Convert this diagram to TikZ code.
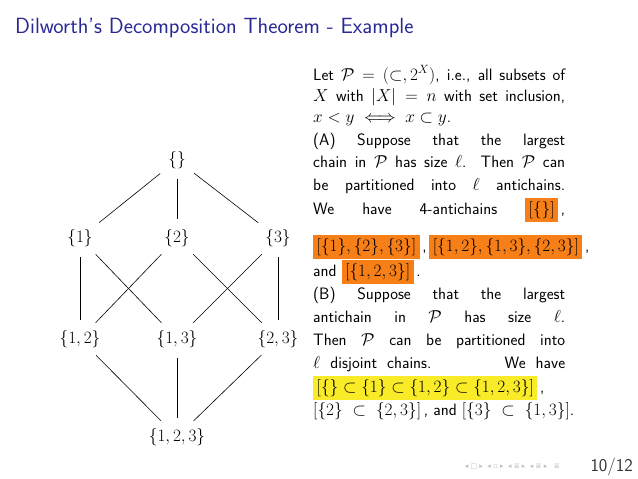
\documentclass[tikz,border=0pt]{standalone}
\usepackage{amssymb}
\usepackage{fontspec}
\newfontfamily\djv{DejaVu Sans}
\definecolor{titleblue}{RGB}{40,40,150}
\definecolor{hlorange}{RGB}{247,127,24}
\definecolor{hlyellow}{RGB}{250,235,40}
\newcommand{\Pc}{\mathcal{P}}
\newcommand{\hl}[2]{{\setlength{\fboxsep}{3.5pt}\colorbox{#1}{$#2$}}}
\newcommand{\jl}[1]{\makebox[252pt][s]{#1}}
\begin{document}
\begin{tikzpicture}[x=1pt,y=-1pt,
  setnode/.style={font=\fontsize{16}{18}\selectfont, inner sep=1pt},
  edge/.style={line width=0.6pt, shorten >=9pt, shorten <=9pt},
  ln/.style={font=\sffamily\fontsize{16.5}{20}\selectfont, inner sep=0pt, anchor=base west}]
\useasboundingbox (0,0) rectangle (638,479);
\node[anchor=west, text=titleblue, font=\sffamily\fontsize{22}{24}\selectfont, inner sep=0pt] (title) at (15,28) {Dilworth's Decomposition Theorem - Example};
\node[setnode] (e) at (177,160) {$\{\}$};
\node[setnode] (a1) at (80,238) {$\{1\}$};
\node[setnode] (a2) at (177,238) {$\{2\}$};
\node[setnode] (a3) at (278,238) {$\{3\}$};
\node[setnode] (b12) at (80,339) {$\{1,2\}$};
\node[setnode] (b13) at (177,339) {$\{1,3\}$};
\node[setnode] (b23) at (278,339) {$\{2,3\}$};
\node[setnode] (c) at (177,437) {$\{1,2,3\}$};
\foreach \u/\v in {e/a1,e/a2,e/a3,a1/b12,a1/b13,a2/b12,a2/b23,a3/b13,a3/b23,b12/c,b13/c,b23/c}
  \draw[edge] (\u) -- (\v);
\node[ln] (l1) at (313,80) {\jl{Let $\Pc=(\subset,2^X)$, i.e., all subsets of}};
\node[ln] (l2) at (313,101) {\jl{$X$ with $|X|=n$ with set inclusion,}};
\node[ln] (l3) at (313,122) {$x<y\iff x\subset y$.};
\node[ln] (l4) at (313,145) {\jl{(A) Suppose that the largest}};
\node[ln] (l5) at (313,167) {\jl{chain in $\Pc$ has size $\ell$. Then $\Pc$ can}};
\node[ln] (l6) at (313,190) {\jl{be partitioned into $\ell$ antichains.}};
\node[ln] (l7) at (313,214) {\jl{We have 4-antichains \hl{hlorange}{[\{\}]}\,,}};
\node[ln] (l8) at (313,251) {\hl{hlorange}{[\{1\},\{2\},\{3\}]}\,,\,\hl{hlorange}{[\{1,2\},\{1,3\},\{2,3\}]}\,,};
\node[ln] (l9) at (313,276) {and \hl{hlorange}{[\{1,2,3\}]}\,.};
\node[ln] (l10) at (313,299) {\jl{(B) Suppose that the largest}};
\node[ln] (l11) at (313,322) {\jl{antichain in $\Pc$ has size $\ell$.}};
\node[ln] (l12) at (313,345) {\jl{Then $\Pc$ can be partitioned into}};
\node[ln] (l13) at (313,368) {\jl{$\ell$ disjoint chains. \hspace{30pt} We have}};
\node[ln] (l14) at (313,392) {\hl{hlyellow}{[\{\}\subset\{1\}\subset\{1,2\}\subset\{1,2,3\}]}\,,};
\node[ln] (l15) at (313,415) {$[\{2\}\ \subset\ \{2,3\}]$\,, and $[\{3\}\ \subset\ \{1,3\}]$.};
\node[anchor=east, text=gray!50, font=\djv\fontsize{7}{8}\selectfont, inner sep=0pt] (nav) at (560,467) {◂ □ ▸ \ ◂ ▫ ▸ \ ◂ ≣ ▸ \ ◂ ≣ ▸ \ \ ≣};
\node[anchor=east, font=\sffamily\fontsize{18}{20}\selectfont, text=black!80, inner sep=0pt] (pg) at (633,467) {10/12};
\end{tikzpicture}
\end{document}
